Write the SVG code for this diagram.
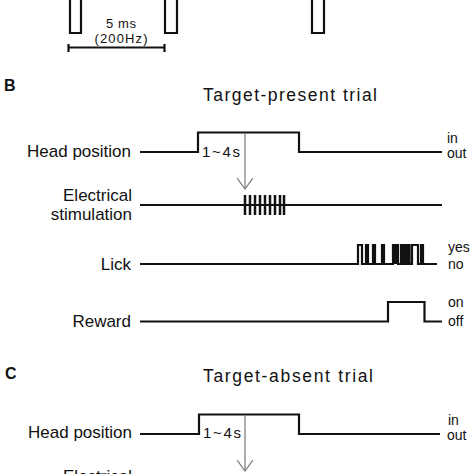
<svg xmlns="http://www.w3.org/2000/svg" width="474" height="474" viewBox="0 0 474 474">
<style>
text{font-family:"Liberation Sans",Arial,sans-serif;fill:#111}
.lbl{font-size:17px;text-anchor:end}
.side{font-size:14px}
.title{font-size:17.5px;text-anchor:middle}
.panel{font-size:16px;font-weight:bold}
.tr{fill:none;stroke:#111;stroke-width:2.2;stroke-linejoin:miter}
.arr{fill:none;stroke:#777;stroke-width:1.2}
</style>
<defs>
<marker id="vh" viewBox="0 0 12 16" refX="11" refY="8" markerWidth="12" markerHeight="16" markerUnits="userSpaceOnUse" orient="auto">
<path d="M0,0 L11,8 L0,16" fill="none" stroke="#777" stroke-width="1.2"/>
</marker>
</defs>
<rect width="474" height="474" fill="#fff"/>

<g id="panelA">
<path class="tr" d="M70,-2 V33 H81 V-2 M165,-2 V33 H177 V-2 M312,-2 V33 H324 V-2" stroke-width="2"/>
<text x="121" y="28" font-size="13" text-anchor="middle" textLength="30" lengthAdjust="spacing">5 ms</text>
<text x="121" y="43" font-size="13" text-anchor="middle" textLength="53" lengthAdjust="spacing">(200Hz)</text>
<path class="tr" d="M68,47.5 H165 M68.5,44 V52 M164.5,44 V52" stroke-width="2"/>
</g>

<g id="panelB">
<text class="panel" x="4" y="91">B</text>
<text class="title" x="290" y="101" textLength="174" lengthAdjust="spacing">Target-present  trial</text>
<g id="B-head">
<text class="lbl" x="131" y="157">Head position</text>
<path class="tr" d="M140,152 H198 V132.5 H299 V152 H442" stroke-width="2.6"/>
<text x="202" y="157" font-size="15" textLength="38" lengthAdjust="spacing">1~4s</text>
<text class="side" x="447" y="143">in</text>
<text class="side" x="447" y="158">out</text>
</g>
<g id="B-stim">
<text class="lbl" x="132" y="201">Electrical</text>
<text class="lbl" x="132" y="220">stimulation</text>
<path class="tr" d="M140,205 H442"/>
<path d="M245,195 V215 M250,195 V215 M255,195 V215 M260,195 V215 M265,195 V215 M270,195 V215 M275,195 V215 M280,195 V215 M284,195 V215" stroke="#111" stroke-width="2.5"/>
</g>
<g id="B-lick">
<text class="lbl" x="131" y="270">Lick</text>
<path class="tr" d="M140,264 H358 V245 H362 V264 H366 V245 H368 V264 H373 V245 H375 V264 H382 V245 H384 V264 H393 V245 H398 V264 H401 V245 H402.5 V264 H404.5 V245 H406 V264 H408 V245 H409.5 V264 H412 V245 H418 V264 H421 V245 H423 V264 H437" stroke-width="2"/>
<rect x="393" y="245" width="5" height="19" fill="#111"/>
<text class="side" x="448" y="252">yes</text>
<text class="side" x="448" y="269">no</text>
</g>
<g id="B-reward">
<text class="lbl" x="131" y="327">Reward</text>
<path class="tr" d="M140,321.5 H388 V302 H424.5 V321.5 H442"/>
<text class="side" x="448" y="307">on</text>
<text class="side" x="448" y="326">off</text>
</g>
</g>

<g id="panelC">
<text class="panel" x="5" y="379">C</text>
<text class="title" x="288" y="382" textLength="170" lengthAdjust="spacing">Target-absent  trial</text>
<g id="C-head">
<text class="lbl" x="132" y="438">Head position</text>
<path class="tr" d="M140,434 H199 V414.5 H299 V434 H440" stroke-width="2.6"/>
<text x="203" y="438" font-size="15" textLength="38" lengthAdjust="spacing">1~4s</text>
<text class="side" x="448" y="425">in</text>
<text class="side" x="447" y="440">out</text>
</g>
<g id="C-stim">
<text class="lbl" x="132" y="482">Electrical</text>
</g>
</g>

<g id="connectors">
<path class="arr" d="M245,133 V189" marker-end="url(#vh)"/>
<path class="arr" d="M245,415 V471" marker-end="url(#vh)"/>
</g>
</svg>
